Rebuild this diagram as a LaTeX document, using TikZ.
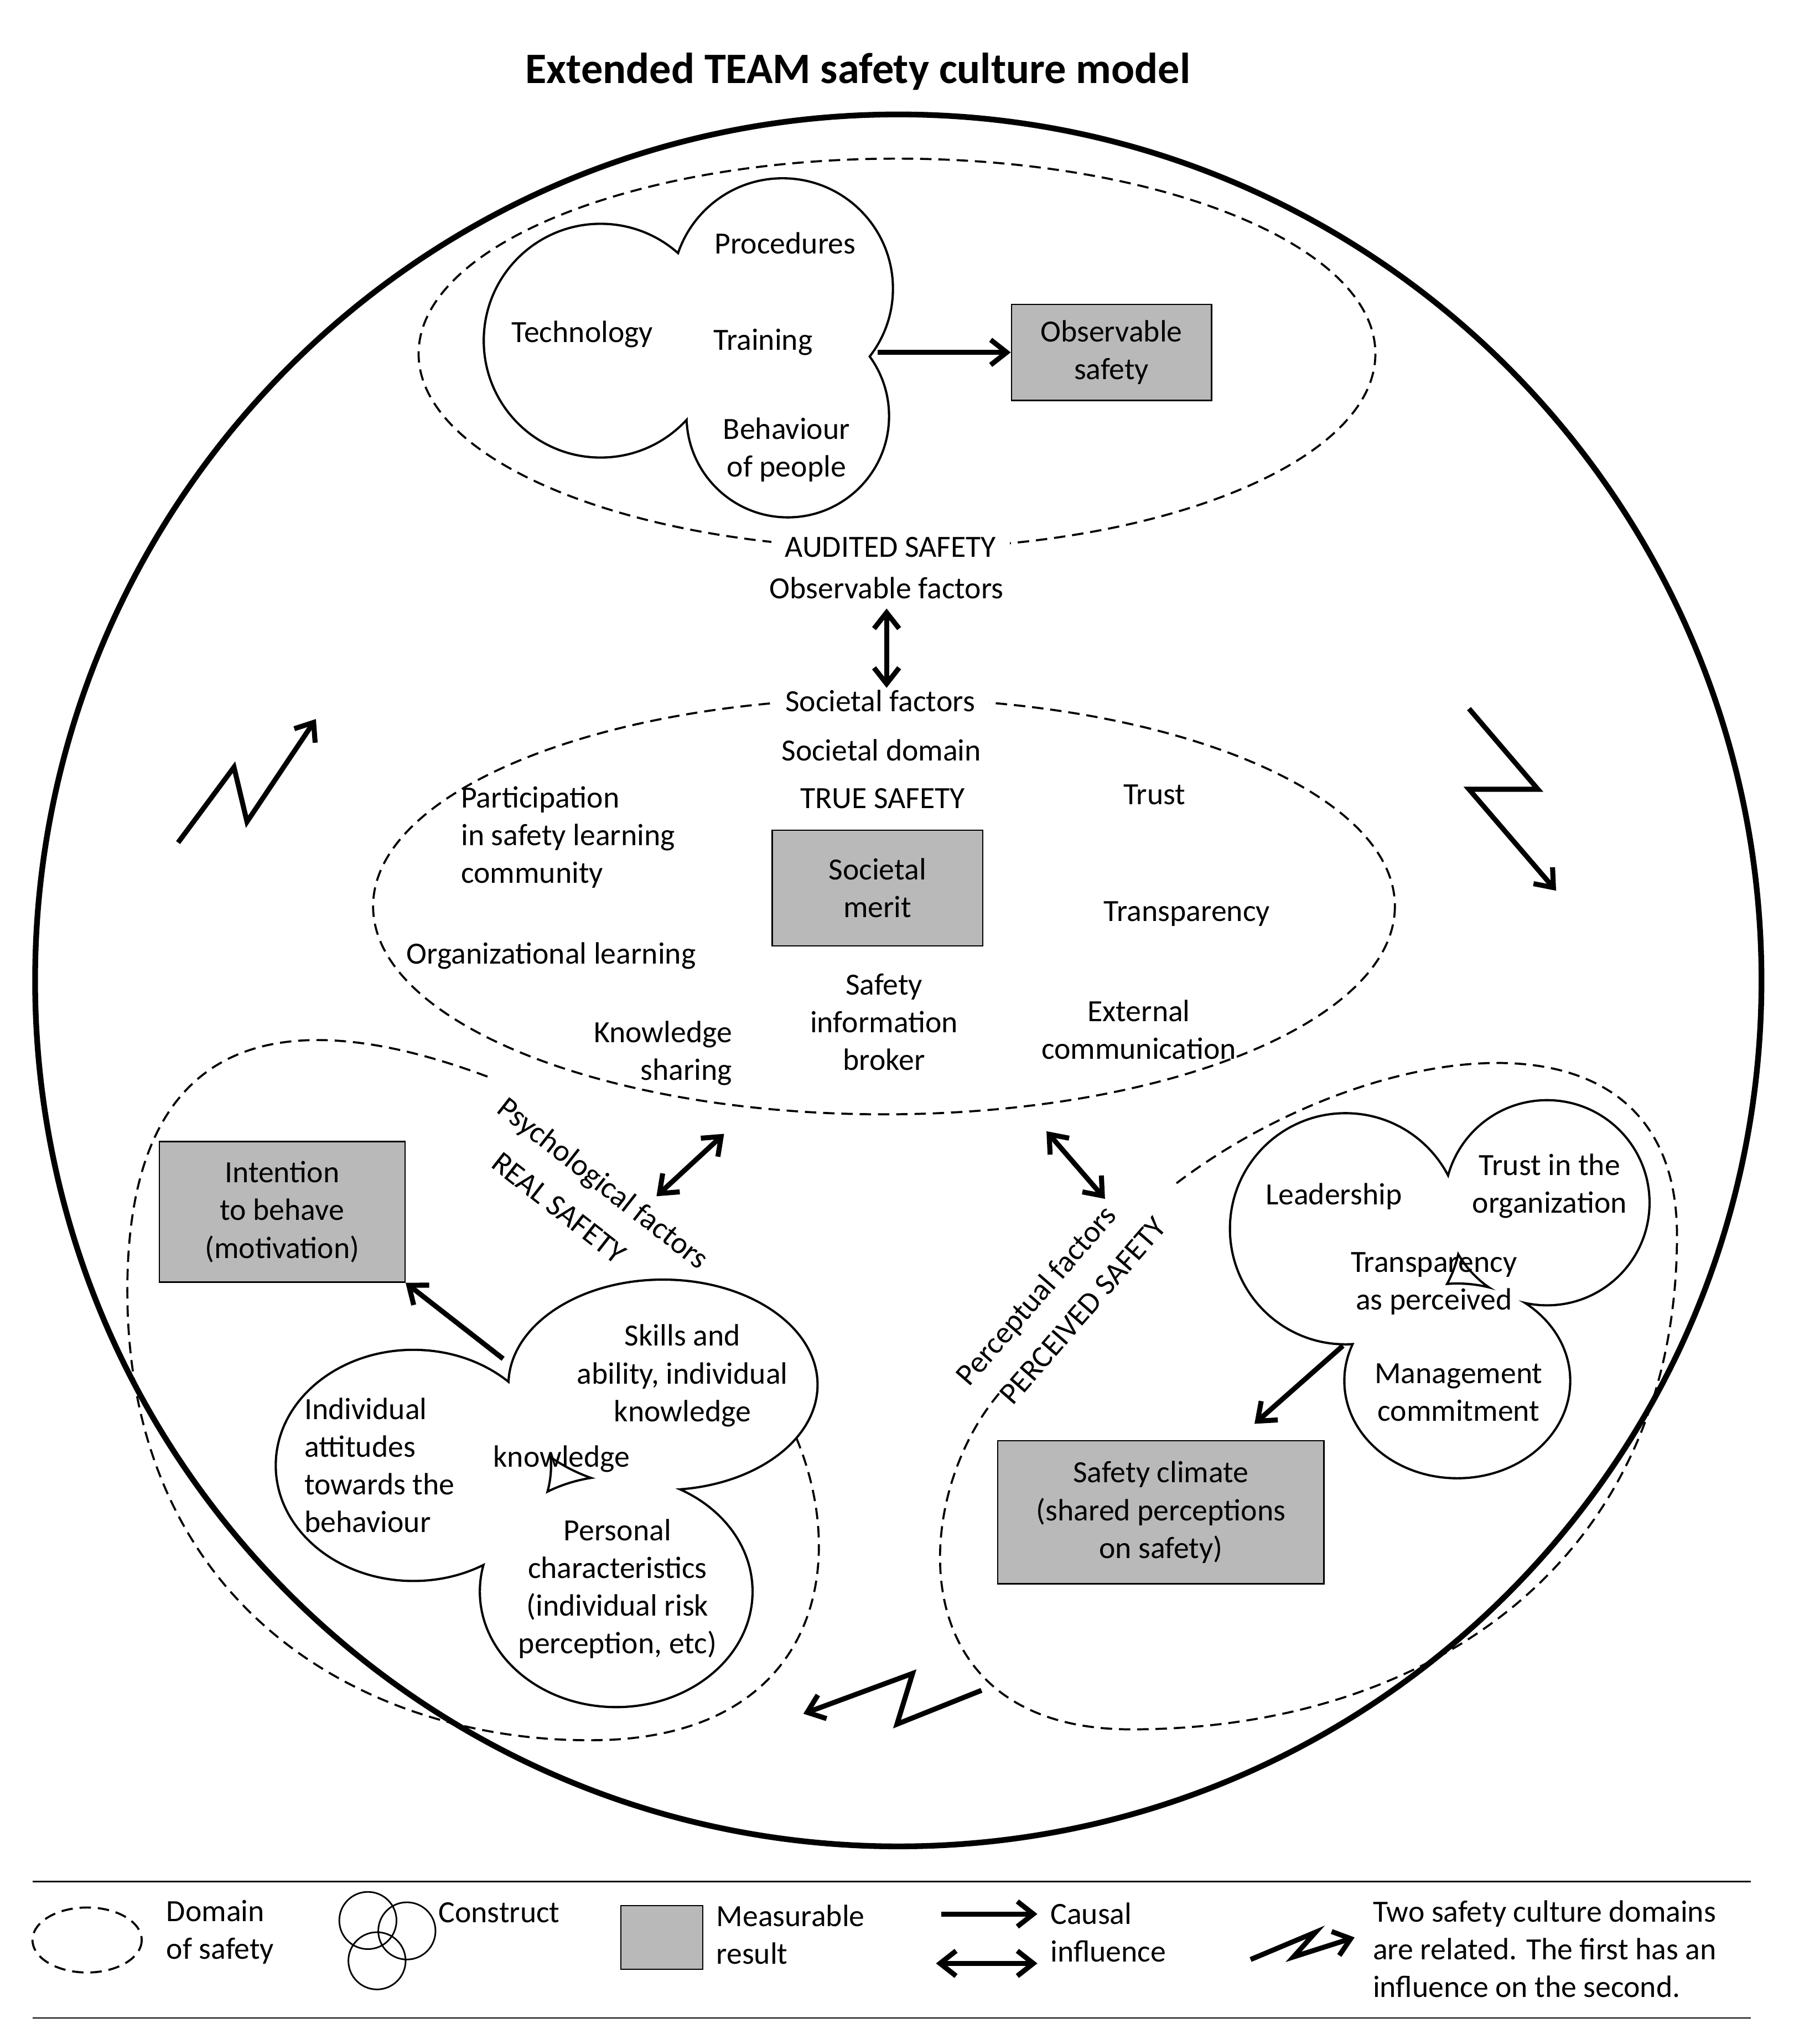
\documentclass[tikz,border=0pt]{standalone}
\usepackage{fontspec}
\setmainfont{Carlito}
\usetikzlibrary{arrows.meta}
\begin{document}
\begin{tikzpicture}[x=0.02cm,y=-0.02cm,
  every node/.style={font=\fontsize{13.5}{16.5}\selectfont, align=center, inner sep=1pt},
  dom/.style={dashed, line width=0.9pt, dash pattern=on 5pt off 3pt},
  box/.style={draw, fill=gray!55, line width=0.6pt},
  arr/.style={line width=2.2pt, -{Straight Barb[length=7pt,width=11pt]}},
  darr/.style={line width=2.2pt, {Straight Barb[length=7pt,width=11pt]}-{Straight Barb[length=7pt,width=11pt]}},
  zz/.style={line width=2.2pt, -{Straight Barb[length=7pt,width=11pt]}},
  wt/.style={fill=white}]
\useasboundingbox (0,0) rectangle (1380,1572);
\node[font=\fontsize{19}{22}\selectfont\bfseries] (title) at (660,55) {Extended TEAM safety culture model};
\draw[line width=2.5pt] (691,754) ellipse [x radius=664, y radius=666];

% top domain
\draw[dom] (690,272) ellipse [x radius=368, y radius=150];
\draw[line width=2pt] (602,222) circle[radius=84] (462,262) circle[radius=89] (606,320) circle[radius=77];
\fill[white] (602,222) circle[radius=84] (462,262) circle[radius=89] (606,320) circle[radius=77];
\node (tech) at (448,257) {Technology};
\node (proc) at (604,187) {Procedures};
\node (beh) at (605,346) {Behaviour\\of people};
\node (train) at (587,263) {Training};
\node[box, minimum width=3.08cm, minimum height=1.48cm] (obs) at (855,271) {Observable\\safety};
\coordinate (ta) at (675,271);
\draw[arr] (ta) -- (obs.west);
\node[wt, inner xsep=6pt] (aud) at (685,421) {AUDITED SAFETY};
\node (obsf) at (682,452) {Observable factors};

% middle domain
\draw[dom] (680,697) ellipse [x radius=393, y radius=160];
\node[wt, inner xsep=6pt] (socf) at (677,539) {Societal factors};
\coordinate (d1) at (682,468); \coordinate (d2) at (682,529);
\draw[darr] (d1) -- (d2);
\node (socd) at (678,577) {Societal domain};
\node (true) at (679,614) {TRUE SAFETY};
\node[box, minimum width=3.24cm, minimum height=1.78cm] (merit) at (675,683) {Societal\\merit};
\node[align=left] (part) at (437,644) {Participation\\in safety learning\\community};
\node (trust) at (888,611) {Trust};
\node (transp) at (913,703) {Transparency};
\node (orgl) at (424,735) {Organizational learning};
\node (sib) at (680,786) {Safety\\information\\broker};
\node (ext) at (876,792) {External\\communication};
\node[align=right] (ks) at (510,810) {Knowledge\\sharing};

% left domain
\draw[dom] (375,828) .. controls (220,770) and (95,790) .. (98,1000) .. controls (102,1250) and (300,1345) .. (470,1338) .. controls (630,1330) and (655,1200) .. (610,1100);
\node[rotate=-38] (psy) at (463,911) {Psychological factors};
\node[rotate=-38] (real) at (430,929) {REAL SAFETY};
\coordinate (l1) at (505,920); \coordinate (l2) at (557,872);
\draw[darr] (l1) -- (l2);
\node[box, minimum width=3.78cm, minimum height=2.16cm] (int) at (217,932) {Intention\\to behave\\(motivation)};
\draw[line width=2pt] (510,1065) ellipse[x radius=118, y radius=80] (318,1127) ellipse[x radius=105, y radius=88] (474,1224) ellipse[x radius=104, y radius=88];
\fill[white] (510,1065) ellipse[x radius=118, y radius=80] (318,1127) ellipse[x radius=105, y radius=88] (474,1224) ellipse[x radius=104, y radius=88];
\node (skills) at (525,1058) {Skills and\\ability, individual\\knowledge};
\node[align=left] (att) at (292,1127) {Individual\\attitudes\\towards the\\behaviour};
\node (know) at (432,1122) {knowledge};
\node (pers) at (475,1222) {Personal\\characteristics\\(individual risk\\perception, etc)};
\coordinate (ia) at (387,1045);
\draw[arr] (ia) -- (int.south east);

% right domain
\draw[dom] (905,910) .. controls (1050,800) and (1290,760) .. (1290,950) .. controls (1290,1200) and (1100,1330) .. (870,1330) .. controls (690,1330) and (700,1150) .. (770,1070);
\node[rotate=49] (perc) at (798,997) {Perceptual factors};
\node[rotate=49] (pers2) at (833,1008) {PERCEIVED SAFETY};
\coordinate (r1) at (805,870); \coordinate (r2) at (850,922);
\draw[darr] (r1) -- (r2);
\draw[line width=2pt] (1035,945) circle[radius=88] (1190,925) circle[radius=78] (1121,1062) ellipse[x radius=86, y radius=74];
\fill[white] (1035,945) circle[radius=88] (1190,925) circle[radius=78] (1121,1062) ellipse[x radius=86, y radius=74];
\node (lead) at (1026,920) {Leadership};
\node (trusto) at (1192,912) {Trust in the\\organization};
\node (tap) at (1103,987) {Transparency\\as perceived};
\node (mgmt) at (1122,1071) {Management\\commitment};
\node[box, minimum width=5.02cm, minimum height=2.2cm] (clim) at (893,1163) {Safety climate\\(shared perceptions\\on safety)};
\coordinate (ca) at (1033,1035);
\draw[arr] (ca) -- (965,1095);

% zigzags
\coordinate (z1) at (137,648);
\draw[zz] (z1) -- (180,590) -- (190,632) -- (243,553);
\coordinate (z2) at (1130,545);
\draw[zz] (z2) -- (1183,607) -- (1130,607) -- (1197,685);
\coordinate (z3) at (755,1300);
\draw[zz] (z3) -- (690,1326) -- (702,1287) -- (618,1318);

% legend
\coordinate (h1) at (25,1447); \coordinate (h2) at (1347,1447);
\coordinate (h3) at (25,1552); \coordinate (h4) at (1347,1552);
\draw[line width=0.6pt] (h1) -- (h2) (h3) -- (h4);
\draw[dom] (67,1492) ellipse[x radius=42, y radius=25];
\node[align=left, anchor=west] (ldom) at (126,1486) {Domain\\of safety};
\draw[line width=0.7pt] (283,1477) circle[radius=22] (313,1485) circle[radius=22] (290,1508) circle[radius=22];
\node (lcon) at (384,1471) {Construct};
\node[box, minimum width=1.26cm, minimum height=0.98cm] (lbox) at (509,1490) {};
\node[align=left, anchor=west] (lmeas) at (549,1488) {Measurable\\result};
\coordinate (a1) at (724,1472); \coordinate (a2) at (798,1472);
\draw[arr] (a1) -- (a2);
\coordinate (a3) at (720,1510); \coordinate (a4) at (798,1510);
\draw[darr] (a3) -- (a4);
\node[align=left, anchor=west] (lcaus) at (806,1486) {Causal\\influence};
\coordinate (z4) at (962,1507);
\draw[zz] (z4) -- (1012,1486) -- (995,1505) -- (1042,1490);
\node[align=left, anchor=west] (lzz) at (1054,1499) {Two safety culture domains\\are related. The first has an\\influence on the second.};
\end{tikzpicture}
\end{document}
